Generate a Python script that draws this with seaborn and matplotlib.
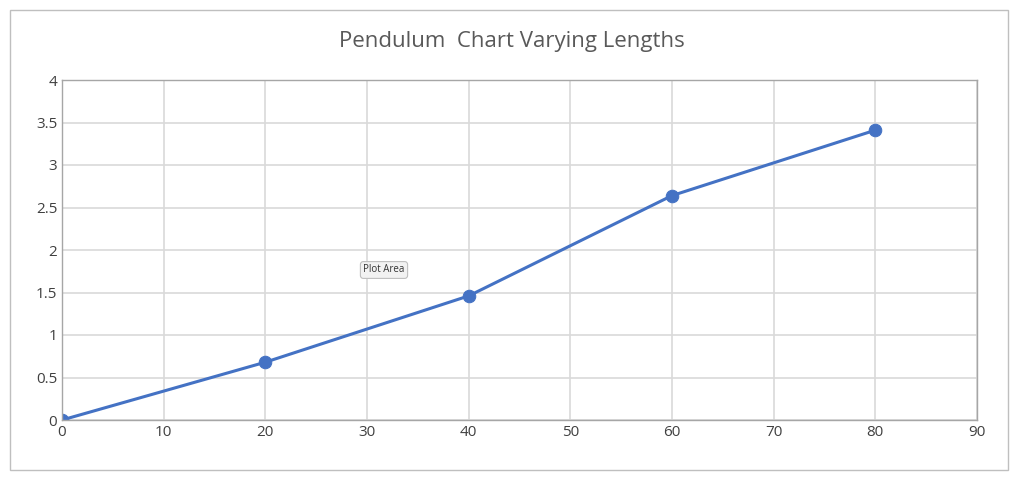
import matplotlib
matplotlib.use('Agg')
import matplotlib.pyplot as plt
import seaborn as sns
import pandas as pd
from matplotlib.patches import Rectangle

sns.set_theme(style='whitegrid')
plt.rcParams['font.family'] = ['Open Sans', 'DejaVu Sans']

length = [0, 20, 40, 60, 80]
period = [0, 0.68, 1.46, 2.64, 3.41]
df = pd.DataFrame({'length': length, 'period': period})

fig = plt.figure(figsize=(10.24, 4.79), dpi=100)
ax = fig.add_axes([62 / 1024, 1 - 420 / 479, (977 - 62) / 1024, (420 - 80) / 479])

sns.lineplot(data=df, x='length', y='period', ax=ax, color='#4472C4', linewidth=2.2,
             marker='o', markersize=9, markeredgecolor='#4472C4')

ax.set_xlim(0, 90)
ax.set_ylim(0, 4)
ax.set_xticks(range(0, 91, 10))
ax.set_yticks([0, 0.5, 1, 1.5, 2, 2.5, 3, 3.5, 4])
ax.set_yticklabels(['0', '0.5', '1', '1.5', '2', '2.5', '3', '3.5', '4'])
ax.grid(True, color='#D9D9D9', linewidth=1.2)
ax.set_xlabel('')
ax.set_ylabel('')
ax.tick_params(labelsize=11, colors='#404040', length=0)
for s in ax.spines.values():
    s.set_color('#A6A6A6')
    s.set_linewidth(1)

fig.text(0.5, 1 - 42 / 479, 'Pendulum  Chart Varying Lengths', ha='center', va='center',
         fontsize=16, color='#595959')
fig.patches.append(Rectangle((10 / 1024, 1 - 470 / 479), 998 / 1024, 460 / 479,
                             transform=fig.transFigure, fill=False, edgecolor='#BFBFBF', linewidth=1))
fig.text(384 / 1024, 1 - 270 / 479, 'Plot Area', ha='center', va='center', fontsize=7,
         color='#333333', bbox=dict(boxstyle='round,pad=0.3', fc='#F2F2F2', ec='#BFBFBF', lw=0.8))

fig.savefig('out.png', dpi=100)
